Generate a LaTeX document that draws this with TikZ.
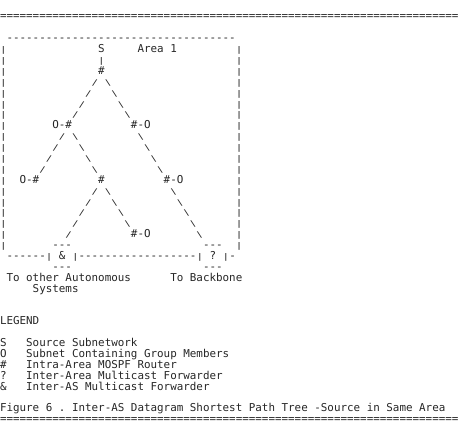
\documentclass[tikz,border=0pt]{standalone}
\usepackage{fontspec}
\setmonofont{DejaVu Sans Mono}
\usepackage{graphicx}
\usepackage{tikz}

% shorter stroke glyphs, as in the plain-text figure
\newcommand{\shortglyph}[1]{\scalebox{1}[0.72]{#1}}

\begin{document}
\begin{tikzpicture}[x=6.55pt, y=-10.89pt,
    ascii/.style={font=\ttfamily\fontsize{10.88}{10.89}\selectfont, text=black!85, anchor=base west, inner sep=0pt, outer sep=0pt}]
            \useasboundingbox (0,-1.83) rectangle (72.37,38.02);
            % Draw the top and bottom rules
            \foreach \c in {0,...,69} {
                \node[ascii] (topRule\c) at (\c,0) {=};
                \node[ascii] (botRule\c) at (\c,37) {=};
            }

            % Draw the area box
            \foreach \c in {1,...,35}
                \node[ascii] (boxTop\c) at (\c,2) {-};
            \foreach \r in {3,...,21} {
                \node[ascii] (boxL\r) at (0,\r) {\shortglyph{|}};
                \node[ascii] (boxR\r) at (36,\r) {\shortglyph{|}};
            }

            % Source and first router
            \node[ascii] (src) at (15,3) {S};
            \node[ascii] (area) at (21,3) {Area 1};
            \node[ascii] (srcLink) at (15,4) {\shortglyph{|}};
            \node[ascii] (rTop) at (15,5) {\#};
            \foreach \i in {1,...,4} {
                \node[ascii] (a\i) at (15-\i,5+\i) {\shortglyph{/}};
                \node[ascii] (b\i) at (15+\i,5+\i) {\shortglyph{\textbackslash}};
            }

            % Second level
            \node[ascii] (rLeft) at (8,10) {O-\#};
            \node[ascii] (rRight) at (20,10) {\#-O};
            \foreach \i in {1,...,4} {
                \node[ascii] (c\i) at (10-\i,10+\i) {\shortglyph{/}};
                \node[ascii] (d\i) at (10+\i,10+\i) {\shortglyph{\textbackslash}};
                \node[ascii] (e\i) at (20+\i,10+\i) {\shortglyph{\textbackslash}};
            }

            % Third level
            \node[ascii] (rLL) at (3,15) {O-\#};
            \node[ascii] (rLR) at (15,15) {\#};
            \node[ascii] (rRR) at (25,15) {\#-O};
            \foreach \i in {1,...,5} {
                \node[ascii] (f\i) at (15-\i,15+\i) {\shortglyph{/}};
                \node[ascii] (h\i) at (25+\i,15+\i) {\shortglyph{\textbackslash}};
            }
            \foreach \i in {1,...,4}
                \node[ascii] (g\i) at (15+\i,15+\i) {\shortglyph{\textbackslash}};
            \node[ascii] (rLRR) at (20,20) {\#-O};

            % Forwarders on the area border
            \node[ascii] (asTop) at (8,21) {---};
            \node[ascii] (abTop) at (31,21) {---};
            \node[ascii] (exitLine) at (1,22) {------\shortglyph{|} \& \shortglyph{|}------------------\shortglyph{|} ? \shortglyph{|}-};
            \node[ascii] (asBot) at (8,23) {---};
            \node[ascii] (abBot) at (31,23) {---};
            \node[ascii] (toAS) at (1,24) {To other Autonomous};
            \node[ascii] (toASb) at (5,25) {Systems};
            \node[ascii] (toBB) at (26,24) {To Backbone};

            % Legend
            \node[ascii] (legend) at (0,28) {LEGEND};
            \foreach \r/\k/\t in {30/S/Source Subnetwork,
                                  31/O/Subnet Containing Group Members,
                                  32/\#/Intra-Area MOSPF Router,
                                  33/?/Inter-Area Multicast Forwarder,
                                  34/\&/Inter-AS Multicast Forwarder} {
                \node[ascii] (key\r) at (0,\r) {\k};
                \node[ascii] (desc\r) at (4,\r) {\t};
            }

            % Caption
            \node[ascii] (caption) at (0,36) {Figure 6 . Inter-AS Datagram Shortest Path Tree -Source in Same Area};
        \end{tikzpicture}
\end{document}
